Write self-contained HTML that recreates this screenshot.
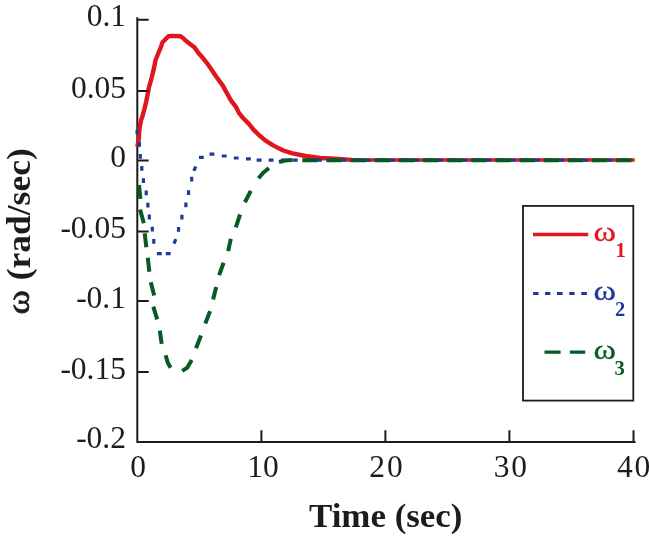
<!DOCTYPE html>
<html><head><meta charset="utf-8">
<style>
html,body{margin:0;padding:0;background:#fff;width:649px;height:540px;overflow:hidden}
svg{display:block}
.t{font-family:"Liberation Serif",serif;font-size:31.5px;fill:#1f1b1b}
.b{font-family:"Liberation Serif",serif;font-weight:bold;fill:#1f1b1b}
.w{font-family:"Liberation Serif",serif;}
.s{font-family:"Liberation Serif",serif;font-weight:bold;font-size:20.5px}
</style></head><body>
<svg width="649" height="540" viewBox="0 0 649 540">
<path d="M137.3 17.2V442.8M136.3 441.9H635.5" stroke="#1f1b1b" stroke-width="2" fill="none"/>
<polyline points="137.3,146.7 138.7,140.0 139.1,133.3 139.8,126.7 141.1,120.0 142.4,116.5 144.6,108.5 146.2,101.5 147.7,94.0 148.8,88.0 151.6,77.8 153.8,68.9 155.6,60.0 158.3,53.3 161.1,46.7 162.5,42.2 165.0,39.7 167.5,37.2 168.6,36.1 172.2,35.9 180.6,36.3 183.0,38.0 185.0,40.0 190.0,43.9 194.4,47.2 198.3,52.8 202.2,57.2 206.7,62.8 210.6,68.3 214.4,73.9 218.3,79.4 222.8,85.6 226.7,92.8 231.1,100.6 236.1,107.2 238.9,112.8 243.3,118.3 248.9,123.9 253.3,129.4 258.9,135.0 265.6,140.6 274.0,145.9 283.3,150.5 292.5,153.3 305.5,156.0 320.2,158.0 338.7,158.9 351.7,159.9" fill="none" stroke="#e1151c" stroke-width="4.4" stroke-linejoin="round"/>
<path d="M350 160.1H634.6" stroke="#e1151c" stroke-width="3.5"/>
<path d="M137.1 129.7L137.1 134.5M139.4 142.0L139.4 146.8M140.3 153.9L140.3 158.7M141.8 166.0L141.8 170.8M143.4 178.2L143.4 183.0M146.2 190.4L146.2 195.2M147.9 202.8L147.9 207.6M149.3 214.6L149.3 219.4M152.3 226.7L152.3 231.5M153.8 239.0L153.8 243.8M156.9 253.7L161.7 253.7M165.8 253.7L170.6 253.7M174.0 243.6L175.8 239.2M178.5 226.9L178.5 231.7M181.9 214.8L181.9 219.6M185.9 202.4L185.9 207.2M188.5 190.2L188.5 195.0M191.7 176.8L191.7 181.6M193.8 170.9L195.8 166.5M199.0 157.4L203.8 157.4M209.5 154.2L214.3 154.2M221.8 156.0L226.6 156.0M233.8 158.0L238.6 158.0M246.0 158.8L250.8 158.8M256.7 160.2L261.5 160.2M268.7 160.2L273.5 160.2M280.8 160.2L285.6 160.2M292.9 160.2L297.7 160.2M305.0 160.2L309.8 160.2M317.1 160.2L321.9 160.2M329.2 160.2L334.0 160.2M341.3 160.2L346.1 160.2M353.4 160.2L358.2 160.2M365.5 160.2L370.3 160.2M377.6 160.2L382.4 160.2M389.7 160.2L394.5 160.2M401.8 160.2L406.6 160.2M413.9 160.2L418.7 160.2M426.0 160.2L430.8 160.2M438.1 160.2L442.9 160.2M450.2 160.2L455.0 160.2M462.3 160.2L467.1 160.2M474.4 160.2L479.2 160.2M486.5 160.2L491.3 160.2M498.6 160.2L503.4 160.2M510.7 160.2L515.5 160.2M522.8 160.2L527.6 160.2M534.9 160.2L539.7 160.2M547.0 160.2L551.8 160.2M559.1 160.2L563.9 160.2M571.2 160.2L576.0 160.2M583.3 160.2L588.1 160.2M595.4 160.2L600.2 160.2M607.5 160.2L612.3 160.2M619.6 160.2L624.4 160.2" fill="none" stroke="#1d3a97" stroke-width="3.2"/>
<path d="M139.0 185.0 L140.4 198.9M140.1 209.4 L143.8 223.3M144.7 233.3 L146.3 247.2M147.8 257.8 L149.3 271.7M150.8 282.2 L154.2 295.6M153.3 306.7 L157.2 319.4M159.8 330.6 L161.7 343.9M165.6 355.3 L167.8 362.8 L170.6 367.8M182.2 370.9 L187.2 367.8 L191.7 360.0M196.0 348.2 L201.0 335.5M205.3 323.5 L210.1 311.1M213.1 299.5 L216.2 287.1M219.1 275.1 L223.6 262.8M228.2 251.1 L230.8 238.8M235.8 227.4 L240.1 214.5M244.9 202.2 L250.8 190.9M258.5 178.2 L263.0 173.0 L268.9 168.0M279.0 162.0 L285.0 160.6 L292.6 160.0M302.3 160.2 L317.6 160.2M326.4 160.2 L341.8 160.2M350.6 160.2 L365.9 160.2M374.7 160.2 L390.0 160.2M398.9 160.2 L414.2 160.2M423.0 160.2 L438.3 160.2M447.2 160.2 L462.5 160.2M471.3 160.2 L486.6 160.2M495.5 160.2 L510.8 160.2M519.6 160.2 L534.9 160.2M543.8 160.2 L559.1 160.2M567.9 160.2 L583.2 160.2M592.1 160.2 L607.4 160.2M616.2 160.2 L631.5 160.2" fill="none" stroke="#065a24" stroke-width="4" stroke-linejoin="round"/>
<g stroke="#1f1b1b" stroke-width="2" fill="none">
<path d="M137.3 19.7H148.7M137.3 91H148.7M137.3 160.6H148.7M137.3 231.6H148.7M137.3 301H148.7M137.3 372H148.7"/>
<path d="M261.4 441.9V430.2M385.4 441.9V430.2M509.4 441.9V430.2M633.5 441.9V430.2"/>
</g>
<g class="t" text-anchor="end">
<text x="126" y="26.4">0.1</text>
<text x="126" y="97.6">0.05</text>
<text x="126" y="167.1">0</text>
<text x="126" y="238.1">-0.05</text>
<text x="126" y="307.5">-0.1</text>
<text x="126" y="378.5">-0.15</text>
<text x="126" y="448.2">-0.2</text>
</g>
<g class="t" text-anchor="middle">
<text x="138" y="476.6">0</text>
<text x="263" y="476.6">10</text>
<text x="386" y="476.6">2<tspan dx="1.8">0</tspan></text>
<text x="510.3" y="476.6">3<tspan dx="1.8">0</tspan></text>
<text x="633.6" y="476.6">4<tspan dx="1.8">0</tspan></text>
</g>
<text class="b" x="309" y="526.6" font-size="33.5" textLength="153.5" lengthAdjust="spacingAndGlyphs">Time (sec)</text>
<g transform="translate(30.3,0) rotate(-90)">
<text class="w" transform="translate(-314.6,-0.9) scale(1.0,0.88)" font-size="37" fill="#1f1b1b" stroke="#1f1b1b" stroke-width="0.8">ω</text>
<text class="b" x="-280.3" y="0" font-size="34" textLength="132" lengthAdjust="spacingAndGlyphs">(rad/sec)</text>
</g>
<rect x="523" y="205.9" width="110.3" height="194.7" fill="none" stroke="#1f1b1b" stroke-width="1.8"/>
<path d="M533 234.5H588.2" stroke="#e1151c" stroke-width="3.3"/>
<path d="M533.1 293.6h5.4M545 293.6h5.4M557 293.6h5.6M569.2 293.6h5.4M581.3 293.6h5.6" stroke="#1d3a97" stroke-width="3"/>
<path d="M544.5 352.2H560.6M569.9 352.2H585.2" stroke="#065a24" stroke-width="3.3"/>
<g font-size="30.5">
<text class="w" stroke="#e1151c" stroke-width="0.35" transform="translate(593.6,241) scale(1.12,0.88)" fill="#e1151c">ω</text><text class="s" x="615.5" y="256.5" fill="#e1151c">1</text>
<text class="w" stroke="#1d3a97" stroke-width="0.35" transform="translate(593.6,300) scale(1.12,0.88)" fill="#1d3a97">ω</text><text class="s" x="615" y="315.7" fill="#1d3a97">2</text>
<text class="w" stroke="#065a24" stroke-width="0.35" transform="translate(593.6,358.8) scale(1.12,0.88)" fill="#065a24">ω</text><text class="s" x="614.5" y="374.9" fill="#065a24">3</text>
</g>
</svg>
</body></html>
